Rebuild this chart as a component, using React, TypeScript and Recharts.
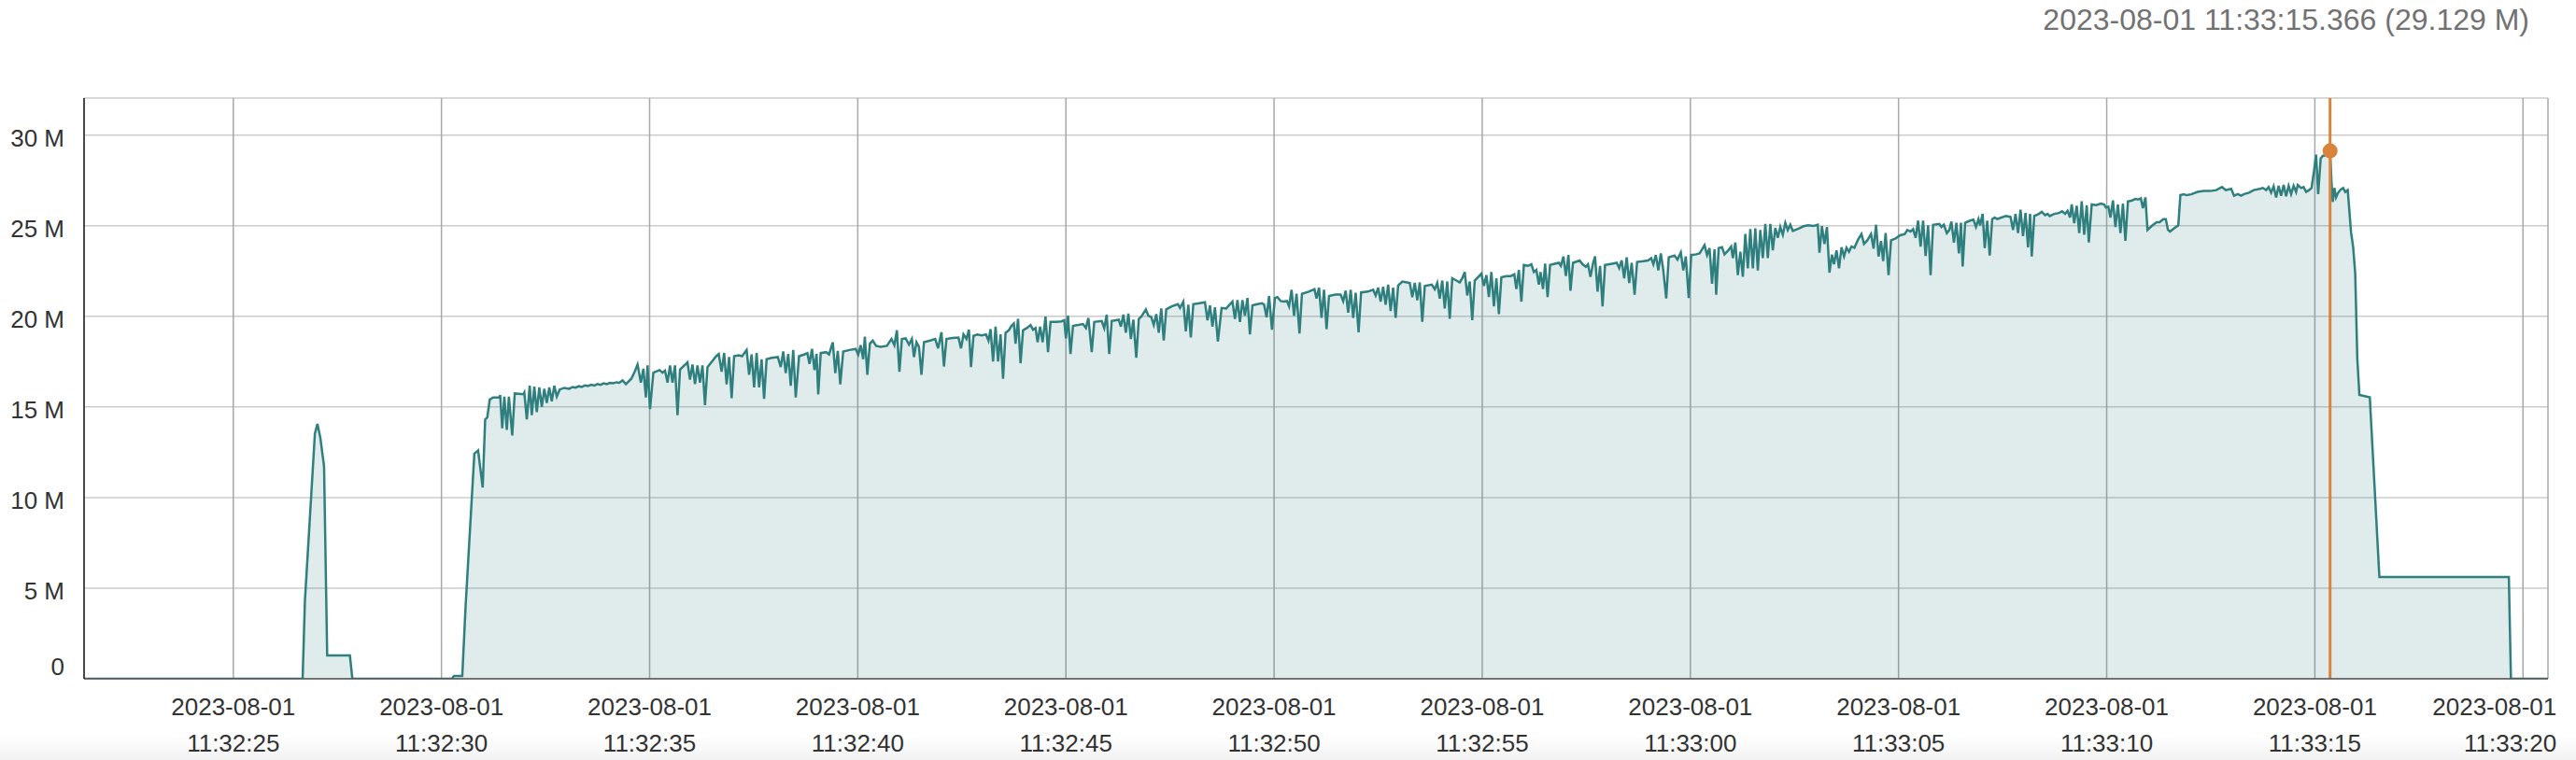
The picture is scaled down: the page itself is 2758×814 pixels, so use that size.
import React from 'react';
import { ComposedChart, Area, XAxis, YAxis, CartesianGrid, ReferenceLine, ReferenceDot } from 'recharts';

// time = seconds after 11:32:00 on DAY, value = millions
const DAY = '2023-08-01';
const X_TICKS = [25, 30, 35, 40, 45, 50, 55, 60, 65, 70, 75, 80];
const Y_TICKS = [0, 5, 10, 15, 20, 25, 30];
const X_DOMAIN = [21.415, 80.6];
const PEAK_T = 75.366;
const PEAK_V = 29.129;

const lead = [
  [21.415, 0], [26.665, 0], [26.72, 4.29], [26.96, 13.52], [27.02, 14.06], [27.09, 13.3], [27.18, 11.73],
  [27.255, 1.29], [27.8, 1.29], [27.86, 0], [30.25, 0], [30.3, 0.15], [30.5, 0.15], [30.58, 4.0],
];

const segA = [
  [30.79, 12.42], [30.88, 12.6], [30.99, 10.55], [31.05, 14.31], [31.1, 14.42], [31.16, 15.4], [31.24, 15.52],
  [31.39, 15.52], [31.41, 15.65], [31.46, 13.82], [31.51, 15.57], [31.57, 13.73], [31.62, 15.57], [31.7, 13.42],
  [31.76, 15.74], [31.97, 15.7], [31.99, 15.79], [32.05, 14.31], [32.12, 16.17], [32.17, 14.54], [32.23, 16.12],
  [32.29, 14.71], [32.35, 16.08], [32.41, 15.0], [32.47, 16.0], [32.53, 15.22], [32.59, 16.08], [32.65, 15.31],
  [32.71, 16.17], [32.77, 15.57], [32.84, 15.96], [32.95, 16.05], [33.07, 16.0], [33.15, 16.1], [33.22, 16.06],
  [33.3, 16.14], [33.37, 16.1], [33.45, 16.19], [33.52, 16.15], [33.6, 16.22], [33.67, 16.18], [33.75, 16.26],
  [33.82, 16.22], [33.9, 16.3], [33.97, 16.26], [34.05, 16.33], [34.12, 16.3], [34.2, 16.36], [34.27, 16.33],
  [34.35, 16.46], [34.43, 16.26], [34.56, 16.55], [34.64, 16.94], [34.71, 17.34], [34.79, 16.34], [34.85, 17.11],
  [34.91, 15.52], [34.95, 17.29], [35.01, 14.88], [35.09, 16.89], [35.24, 17.03], [35.31, 16.89], [35.37, 17.0],
  [35.43, 16.34], [35.49, 17.29], [35.55, 16.34], [35.61, 17.29], [35.67, 14.54], [35.73, 17.06], [35.91, 17.46],
  [35.97, 16.51], [36.03, 17.34], [36.09, 16.26], [36.15, 17.29], [36.21, 16.34], [36.27, 17.29], [36.33, 15.1],
  [36.39, 17.2], [36.6, 17.8],
];

const segB = [
  [36.66, 17.92], [36.73, 16.94], [36.79, 17.97], [36.85, 16.25], [36.91, 17.75], [36.97, 15.48], [37.03, 17.8],
  [37.14, 17.85], [37.22, 17.8], [37.33, 18.14], [37.39, 16.77], [37.45, 17.89], [37.51, 16.08], [37.57, 17.97],
  [37.63, 16.08], [37.69, 17.63], [37.75, 15.45], [37.81, 17.63], [37.93, 17.71], [38.08, 17.75], [38.15, 17.2],
  [38.21, 18.06], [38.27, 16.86], [38.33, 17.92], [38.39, 16.17], [38.45, 18.14], [38.51, 15.52], [38.59, 17.8],
  [38.71, 17.89], [38.79, 17.97], [38.84, 17.37], [38.9, 18.2], [38.96, 17.03], [39.01, 17.92], [39.05, 15.69],
  [39.11, 17.97], [39.24, 18.02], [39.31, 17.89], [39.4, 18.57], [39.46, 16.86], [39.52, 18.09], [39.58, 16.25],
  [39.65, 18.06], [39.8, 18.14], [39.95, 18.2], [40.01, 17.89], [40.07, 18.4], [40.13, 17.63], [40.17, 18.88],
  [40.23, 16.77], [40.29, 18.49], [40.36, 18.66], [40.44, 18.37], [40.55, 18.32], [40.7, 18.37], [40.81, 18.75],
  [40.88, 18.4], [40.94, 19.23], [41.0, 16.94], [41.06, 18.75], [41.15, 18.78], [41.23, 18.44], [41.3, 18.75],
  [41.35, 17.75], [41.41, 18.57], [41.47, 18.32], [41.53, 16.77], [41.59, 18.57], [41.74, 18.66], [41.86, 18.75],
  [41.93, 18.23], [42.01, 19.12], [42.07, 17.23], [42.13, 18.75], [42.27, 18.8], [42.42, 18.83], [42.48, 18.23],
  [42.54, 19.0], [42.61, 18.75], [42.67, 19.26],
];

const segC = [
  [42.72, 17.2], [42.78, 18.92], [42.87, 18.99], [42.98, 18.95], [43.08, 19.0], [43.14, 18.66], [43.19, 19.29],
  [43.25, 17.51], [43.31, 19.43], [43.37, 17.51], [43.43, 19.0], [43.49, 16.55], [43.55, 19.09], [43.63, 19.23],
  [43.69, 19.47], [43.75, 19.6], [43.79, 18.49], [43.85, 19.86], [43.91, 17.41], [43.97, 19.23], [44.06, 19.35],
  [44.15, 19.52], [44.21, 19.26], [44.27, 19.35], [44.32, 18.57], [44.38, 19.43], [44.44, 18.57], [44.51, 19.98],
  [44.57, 18.02], [44.63, 19.69], [44.77, 19.69], [44.89, 19.72], [44.96, 19.78], [45.0, 18.78], [45.05, 20.03],
  [45.11, 17.92], [45.17, 19.47], [45.3, 19.52], [45.41, 19.57], [45.48, 19.35], [45.54, 19.91], [45.62, 18.02],
  [45.68, 19.69], [45.86, 19.74], [45.92, 19.35], [45.98, 20.09], [46.04, 17.92], [46.1, 19.74], [46.27, 19.81],
  [46.32, 19.43], [46.38, 20.09], [46.44, 19.09], [46.5, 20.15], [46.56, 18.75], [46.62, 19.81], [46.69, 17.71],
  [46.75, 19.86], [46.81, 19.98], [46.92, 20.38], [46.98, 20.03], [47.05, 19.95], [47.11, 19.52], [47.17, 20.12],
  [47.23, 19.09], [47.29, 20.43], [47.35, 18.66], [47.41, 20.38], [47.54, 20.55], [47.69, 20.67], [47.74, 20.46],
  [47.82, 20.81], [47.88, 19.17], [47.94, 20.64], [48.0, 18.83], [48.06, 20.67], [48.21, 20.72], [48.34, 20.77],
  [48.4, 19.78], [48.46, 20.6], [48.52, 19.43], [48.58, 20.5], [48.65, 18.61], [48.74, 20.46],
];

const segD = [
  [48.85, 20.43], [49.0, 20.81], [49.06, 19.86], [49.12, 20.89], [49.18, 19.69], [49.24, 20.89], [49.3, 20.03],
  [49.36, 21.01], [49.42, 19.0], [49.48, 20.6], [49.6, 20.67], [49.71, 20.72], [49.76, 20.64], [49.82, 19.95],
  [49.88, 21.12], [49.95, 19.26], [50.02, 21.01], [50.08, 21.06], [50.16, 20.84], [50.23, 20.81], [50.31, 20.84],
  [50.36, 20.55], [50.42, 21.46], [50.48, 20.03], [50.54, 21.24], [50.61, 19.05], [50.67, 21.24], [50.83, 21.36],
  [50.97, 21.49], [51.02, 20.98], [51.08, 21.58], [51.14, 19.91], [51.2, 21.46], [51.26, 19.29], [51.32, 21.12],
  [51.47, 21.2], [51.6, 21.2], [51.66, 20.84], [51.72, 21.41], [51.78, 20.2], [51.84, 21.46], [51.9, 19.91],
  [51.96, 21.29], [52.03, 19.12], [52.09, 21.32], [52.25, 21.36], [52.38, 21.46], [52.44, 21.15], [52.5, 21.58],
  [52.56, 20.81], [52.62, 21.63], [52.68, 20.64], [52.74, 21.75], [52.8, 20.29], [52.86, 21.58], [52.92, 19.91],
  [52.98, 21.7], [53.08, 21.92], [53.19, 21.87], [53.26, 21.84], [53.32, 21.06], [53.38, 21.84], [53.44, 20.89],
  [53.5, 21.87], [53.56, 19.69], [53.62, 21.67], [53.79, 21.75], [53.86, 21.49], [53.92, 21.84], [53.98, 20.98],
  [54.04, 21.97], [54.1, 20.43], [54.16, 21.92], [54.22, 19.86], [54.28, 22.1], [54.38, 21.97], [54.46, 21.87],
  [54.52, 22.1], [54.58, 22.44], [54.64, 21.15], [54.7, 21.92], [54.76, 19.78], [54.82, 21.97],
];

const segE = [
  [54.98, 22.35], [55.04, 21.67], [55.1, 22.27], [55.16, 21.06], [55.22, 22.44], [55.28, 20.55], [55.34, 22.1],
  [55.4, 20.12], [55.46, 22.15], [55.58, 22.22], [55.69, 22.22], [55.77, 22.32], [55.82, 21.5], [55.88, 22.56],
  [55.94, 20.81], [56.0, 22.83], [56.1, 22.78], [56.18, 22.87], [56.24, 22.44], [56.3, 22.56], [56.36, 21.75],
  [56.4, 22.44], [56.46, 21.5], [56.51, 22.9], [56.57, 21.06], [56.63, 22.83], [56.74, 22.9], [56.84, 22.95],
  [56.89, 22.78], [56.95, 23.3], [57.01, 22.22], [57.07, 23.38], [57.12, 21.41], [57.18, 22.95], [57.34, 23.08],
  [57.41, 22.87], [57.49, 22.73], [57.54, 22.87], [57.6, 22.18], [57.66, 22.9], [57.71, 23.3], [57.77, 21.36],
  [57.83, 22.78], [57.89, 20.55], [57.95, 22.83], [58.12, 22.9], [58.23, 22.95], [58.29, 22.66], [58.35, 23.08],
  [58.41, 22.1], [58.47, 23.25], [58.53, 21.84], [58.59, 22.95], [58.66, 21.19], [58.72, 23.0], [58.87, 23.04],
  [58.98, 23.08], [59.06, 23.21], [59.11, 22.87], [59.17, 23.38], [59.23, 22.53], [59.29, 23.47], [59.35, 22.53],
  [59.42, 20.98], [59.48, 23.25], [59.62, 23.35], [59.69, 23.13], [59.77, 23.52], [59.83, 22.53], [59.89, 23.3],
  [59.96, 21.01], [60.02, 23.38], [60.14, 23.42], [60.22, 23.47], [60.28, 23.69], [60.34, 23.93], [60.4, 23.38],
  [60.46, 23.76], [60.52, 21.8], [60.58, 23.69], [60.62, 21.19], [60.68, 23.76], [60.76, 23.81], [60.82, 23.42],
  [60.91, 23.64],
];

const segF = [
  [60.98, 23.85], [61.02, 23.21], [61.08, 24.07], [61.14, 22.27], [61.2, 23.56], [61.26, 22.18], [61.32, 24.54],
  [61.38, 22.65], [61.44, 24.81], [61.5, 22.65], [61.56, 24.85], [61.62, 22.53], [61.68, 24.76], [61.74, 23.21],
  [61.8, 25.1], [61.86, 23.21], [61.92, 25.1], [61.98, 23.64], [62.04, 24.88], [62.1, 24.33], [62.16, 24.93],
  [62.22, 24.5], [62.28, 25.16], [62.34, 24.76], [62.4, 25.05], [62.46, 24.71], [62.61, 24.85], [62.72, 24.97],
  [62.83, 25.02], [62.95, 24.98], [63.06, 25.05], [63.1, 23.51], [63.16, 24.98], [63.22, 23.99], [63.28, 24.93],
  [63.34, 22.41], [63.4, 23.4], [63.45, 22.87], [63.51, 23.64], [63.57, 22.65], [63.63, 23.81], [63.69, 23.3],
  [63.75, 23.78], [63.81, 23.56], [63.87, 23.85], [63.94, 23.78], [64.03, 24.24], [64.11, 24.54], [64.17, 23.99],
  [64.25, 24.19], [64.34, 24.54], [64.4, 23.73], [64.46, 25.05], [64.52, 23.3], [64.58, 24.16], [64.63, 23.04],
  [64.69, 24.59], [64.76, 22.27], [64.82, 24.19], [64.93, 24.3], [65.04, 24.47], [65.15, 24.54], [65.21, 24.76],
  [65.29, 24.67], [65.35, 24.81], [65.41, 24.33], [65.47, 25.28], [65.53, 23.85], [65.59, 25.28], [65.65, 23.33],
  [65.71, 25.02], [65.77, 22.27], [65.83, 25.05], [65.98, 25.1], [66.03, 24.93], [66.09, 25.05], [66.16, 24.59],
  [66.22, 24.76], [66.27, 25.22], [66.33, 24.07], [66.39, 25.16], [66.45, 23.47], [66.5, 25.16], [66.54, 22.75],
  [66.6, 25.16], [66.72, 25.28], [66.8, 25.33], [66.86, 24.93], [66.92, 25.36], [66.96, 25.02],
];

const segG = [
  [67.02, 25.65], [67.07, 23.76], [67.13, 25.27], [67.19, 23.35], [67.25, 25.36], [67.31, 25.45], [67.37, 25.36],
  [67.47, 25.45], [67.58, 25.53], [67.69, 25.48], [67.75, 24.76], [67.81, 25.65], [67.87, 24.59], [67.93, 25.88],
  [67.99, 24.42], [68.05, 25.7], [68.11, 23.81], [68.16, 25.65], [68.2, 23.3], [68.26, 25.53], [68.37, 25.65],
  [68.44, 25.76], [68.52, 25.58], [68.58, 25.65], [68.63, 25.53], [68.74, 25.65], [68.85, 25.7], [68.93, 25.79],
  [69.0, 25.65], [69.06, 25.82], [69.12, 25.45], [69.16, 26.17], [69.22, 25.14], [69.28, 26.1], [69.34, 24.59],
  [69.4, 26.34], [69.46, 24.5], [69.52, 26.13], [69.57, 24.07], [69.64, 26.17], [69.75, 26.13], [69.86, 26.22],
  [69.94, 26.17], [69.98, 26.0], [70.04, 26.05], [70.09, 25.45], [70.15, 26.39], [70.21, 24.93], [70.27, 26.17],
  [70.33, 24.59], [70.39, 26.22], [70.45, 24.16], [70.51, 26.34], [70.61, 26.39], [70.69, 26.48], [70.76, 26.44],
  [70.82, 26.51], [70.87, 25.96], [70.93, 26.56], [70.98, 24.76], [71.1, 25.02], [71.2, 25.19], [71.27, 25.19],
  [71.36, 25.36], [71.42, 25.36], [71.47, 24.79], [71.52, 24.67], [71.62, 24.85], [71.72, 25.02], [71.77, 26.68],
  [71.85, 26.73], [71.92, 26.68], [72.03, 26.73], [72.18, 26.86], [72.33, 26.91], [72.48, 26.91], [72.63, 26.96],
  [72.77, 27.13], [72.86, 26.96], [72.99, 27.03],
];

const segH = [
  [73.06, 26.65], [73.15, 26.74], [73.23, 26.65], [73.3, 26.74], [73.42, 26.82], [73.53, 26.96], [73.68, 27.03],
  [73.75, 27.08], [73.83, 26.96], [73.89, 27.13], [73.95, 26.82], [74.01, 27.17], [74.07, 26.56], [74.13, 27.2],
  [74.19, 26.65], [74.25, 27.25], [74.31, 26.62], [74.37, 27.2], [74.43, 26.74], [74.49, 27.2], [74.55, 26.86],
  [74.59, 27.25], [74.67, 27.08], [74.73, 27.13], [74.79, 26.86], [74.86, 26.96], [74.92, 27.08], [74.98, 28.02],
  [75.03, 28.92], [75.08, 26.74], [75.14, 28.71], [75.19, 28.85], [75.25, 28.88], [PEAK_T, PEAK_V], [75.4, 27.42],
  [75.43, 26.31], [75.47, 27.08], [75.51, 26.56], [75.56, 26.82], [75.62, 26.99], [75.68, 27.08], [75.73, 26.86],
  [75.79, 26.96],
];

const tail = [
  [75.87, 24.63], [75.92, 23.82], [75.97, 22.35], [76.02, 17.67], [76.07, 15.66], [76.32, 15.53], [76.55, 5.62],
  [79.66, 5.62], [79.71, 0], [80.6, 0],
];

const TEAL = '#2f7f7f';
const ORANGE = '#d9823b';
const FONT = '"Liberation Sans", Arial, Helvetica, sans-serif';

const series = [...lead, ...segA, ...segB, ...segC, ...segD, ...segE, ...segF, ...segG, ...segH, ...tail].map(
  ([t, v]) => ({ t, v })
);

const pad = (n: number) => String(n).padStart(2, '0');
const clock = (t: number, ms = false) => {
  const whole = Math.floor(t);
  const m = 32 + Math.floor(whole / 60);
  const s = whole % 60;
  const frac = ms ? '.' + String(Math.round((t - whole) * 1000)).padStart(3, '0') : '';
  return `11:${pad(m)}:${pad(s)}${frac}`;
};

const YTick = (props: any) => {
  const { x, y, payload } = props;
  const v = payload.value;
  return (
    <text x={x} y={v === 0 ? y - 4 : y + 12} textAnchor="end" fontSize={26} fill="#333" fontFamily={FONT}>
      {v === 0 ? '0' : `${v} M`}
    </text>
  );
};

const XTick = (props: any) => {
  const { x, y, payload } = props;
  const last = payload.value === X_TICKS[X_TICKS.length - 1];
  const tx = last ? x + 36 : x;
  return (
    <text textAnchor={last ? 'end' : 'middle'} fontSize={26} fill="#333" fontFamily={FONT}>
      <tspan x={tx} y={y + 39}>{DAY}</tspan>
      <tspan x={tx} y={y + 78}>{clock(payload.value)}</tspan>
    </text>
  );
};

export default function App() {
  return (
    <div style={{ position: 'relative', width: 2758, height: 814, background: '#fff', overflow: 'hidden' }}>
      <style>{'body{margin:0}'}</style>
      <div
        style={{
          position: 'absolute',
          right: 50,
          top: 5,
          fontFamily: FONT,
          fontSize: 32,
          lineHeight: '32px',
          color: '#727272',
          whiteSpace: 'nowrap',
        }}
      >
        {`${DAY} ${clock(PEAK_T, true)} (${PEAK_V} M)`}
      </div>
      <ComposedChart
        width={2758}
        height={814}
        data={series}
        margin={{ top: 105, right: 30, bottom: 0, left: 0 }}
      >
        <CartesianGrid vertical={false} stroke="#cccccc" strokeWidth={1.5} />
        <CartesianGrid horizontal={false} stroke="#a8a8a8" strokeWidth={1.5} />
        <XAxis
          dataKey="t"
          type="number"
          domain={X_DOMAIN}
          ticks={X_TICKS}
          allowDataOverflow
          height={87}
          tickLine={false}
          tickSize={0}
          tickMargin={0}
          axisLine={{ stroke: '#555', strokeWidth: 1.5 }}
          tick={<XTick />}
          interval={0}
        />
        <YAxis
          type="number"
          domain={[0, PEAK_V * 1.1]}
          ticks={Y_TICKS}
          allowDataOverflow
          width={90}
          tickLine={false}
          tickSize={0}
          tickMargin={21}
          axisLine={{ stroke: '#222', strokeWidth: 1.5 }}
          tick={<YTick />}
          interval={0}
        />
        <Area
          type="linear"
          dataKey="v"
          stroke={TEAL}
          strokeWidth={2.5}
          fill={TEAL}
          fillOpacity={0.15}
          dot={false}
          activeDot={false}
          isAnimationActive={false}
        />
        <ReferenceLine x={PEAK_T} stroke={ORANGE} strokeWidth={3} />
        <ReferenceDot x={PEAK_T} y={PEAK_V} r={8} fill={ORANGE} stroke="none" />
      </ComposedChart>
      <div
        style={{
          position: 'absolute',
          left: 0,
          right: 0,
          bottom: 0,
          height: 26,
          background: 'linear-gradient(to bottom, rgba(0,0,0,0), rgba(0,0,0,0.05))',
        }}
      />
    </div>
  );
}
